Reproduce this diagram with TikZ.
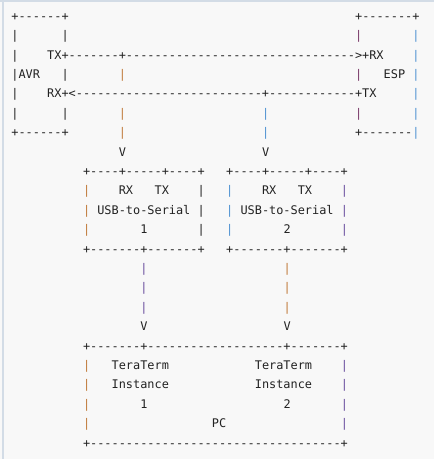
\documentclass[tikz,border=0pt]{standalone}
\usepackage{fontspec}
\setmonofont{DejaVu Sans Mono}
\definecolor{ink}{HTML}{222222}
\definecolor{pO}{HTML}{C07A3A}
\definecolor{pB}{HTML}{4F92D2}
\definecolor{pP}{HTML}{6A4E9E}
\definecolor{pM}{HTML}{7A3A6A}
\definecolor{bgc}{HTML}{F8F8F8}
\definecolor{edge}{HTML}{D3DCE6}
\tikzset{txt/.style={anchor=base west, inner sep=0pt, outer sep=0pt,
  font=\ttfamily\fontsize{11.89pt}{14pt}\selectfont}}
\newcommand{\seg}[5]{\node[txt, text=#4] (#1) at ({15+7.16*#2-3.58},{16+19.4*#3+4.3}) {#5};}
\begin{document}
\begin{tikzpicture}[x=1pt,y=-1pt]
\useasboundingbox (0,0) rectangle (434,459);
\fill[bgc] (0,0) rectangle (434,459);
\fill[edge] (0,0) rectangle (434,2);
\fill[edge] (2,0) rectangle (3.5,459);
% row 0
\seg{a0}{0}{0}{ink}{+------+}
\seg{b0}{48}{0}{ink}{+-------+}
% row 1
\seg{a1l}{0}{1}{ink}{|}
\seg{a1r}{7}{1}{ink}{|}
\seg{b1l}{48}{1}{pM}{|}
\seg{b1r}{56}{1}{pB}{|}
% row 2
\seg{a2l}{0}{2}{ink}{|}
\seg{tx}{5}{2}{ink}{TX+-------+-------------------------------->+RX}
\seg{b2r}{56}{2}{pB}{|}
% row 3
\seg{avr}{0}{3}{ink}{|AVR}
\seg{a3r}{7}{3}{ink}{|}
\seg{c3}{15}{3}{pO}{|}
\seg{b3l}{48}{3}{pM}{|}
\seg{esp}{52}{3}{ink}{ESP}
\seg{b3r}{56}{3}{pB}{|}
% row 4
\seg{a4l}{0}{4}{ink}{|}
\seg{rx}{5}{4}{ink}{RX+<--------------------------+------------+TX}
\seg{b4r}{56}{4}{pB}{|}
% row 5
\seg{a5l}{0}{5}{ink}{|}
\seg{a5r}{7}{5}{ink}{|}
\seg{c5}{15}{5}{pO}{|}
\seg{d5}{35}{5}{pB}{|}
\seg{b5l}{48}{5}{pM}{|}
\seg{b5r}{56}{5}{pB}{|}
% row 6
\seg{a6}{0}{6}{ink}{+------+}
\seg{c6}{15}{6}{pO}{|}
\seg{d6}{35}{6}{pB}{|}
\seg{b6}{48}{6}{ink}{+-------}
\seg{b6r}{56}{6}{pB}{|}
% row 7
\seg{c7}{15}{7}{ink}{V}
\seg{d7}{35}{7}{ink}{V}
% USB boxes
\seg{u8}{10}{8}{ink}{+----+-----+----+}
\seg{v8}{30}{8}{ink}{+----+-----+----+}
\seg{u9l}{10}{9}{pO}{|}
\seg{u9rx}{15}{9}{ink}{RX}
\seg{u9tx}{20}{9}{ink}{TX}
\seg{u9r}{26}{9}{ink}{|}
\seg{v9l}{30}{9}{pB}{|}
\seg{v9rx}{35}{9}{ink}{RX}
\seg{v9tx}{40}{9}{ink}{TX}
\seg{v9r}{46}{9}{pP}{|}
\seg{u10l}{10}{10}{pO}{|}
\seg{u10t}{12}{10}{ink}{USB-to-Serial}
\seg{u10r}{26}{10}{ink}{|}
\seg{v10l}{30}{10}{pB}{|}
\seg{v10t}{32}{10}{ink}{USB-to-Serial}
\seg{v10r}{46}{10}{pP}{|}
\seg{u11l}{10}{11}{pO}{|}
\seg{u11n}{18}{11}{ink}{1}
\seg{u11r}{26}{11}{ink}{|}
\seg{v11l}{30}{11}{pB}{|}
\seg{v11n}{38}{11}{ink}{2}
\seg{v11r}{46}{11}{pP}{|}
\seg{u12}{10}{12}{ink}{+-------+-------+}
\seg{v12}{30}{12}{ink}{+-------+-------+}
% links to PC
\seg{e13}{18}{13}{pP}{|}
\seg{f13}{38}{13}{pO}{|}
\seg{e14}{18}{14}{pP}{|}
\seg{f14}{38}{14}{pO}{|}
\seg{e15}{18}{15}{pP}{|}
\seg{f15}{38}{15}{pO}{|}
\seg{e16}{18}{16}{ink}{V}
\seg{f16}{38}{16}{ink}{V}
% PC box
\seg{p17}{10}{17}{ink}{+-------+-------------------+-------+}
\seg{p18l}{10}{18}{pO}{|}
\seg{p18a}{14}{18}{ink}{TeraTerm}
\seg{p18b}{34}{18}{ink}{TeraTerm}
\seg{p18r}{46}{18}{pP}{|}
\seg{p19l}{10}{19}{pO}{|}
\seg{p19a}{14}{19}{ink}{Instance}
\seg{p19b}{34}{19}{ink}{Instance}
\seg{p19r}{46}{19}{pP}{|}
\seg{p20l}{10}{20}{pO}{|}
\seg{p20a}{18}{20}{ink}{1}
\seg{p20b}{38}{20}{ink}{2}
\seg{p20r}{46}{20}{pP}{|}
\seg{p21l}{10}{21}{pO}{|}
\seg{pc}{28}{21}{ink}{PC}
\seg{p21r}{46}{21}{pP}{|}
\seg{p22}{10}{22}{ink}{+-----------------------------------+}
\end{tikzpicture}
\end{document}
